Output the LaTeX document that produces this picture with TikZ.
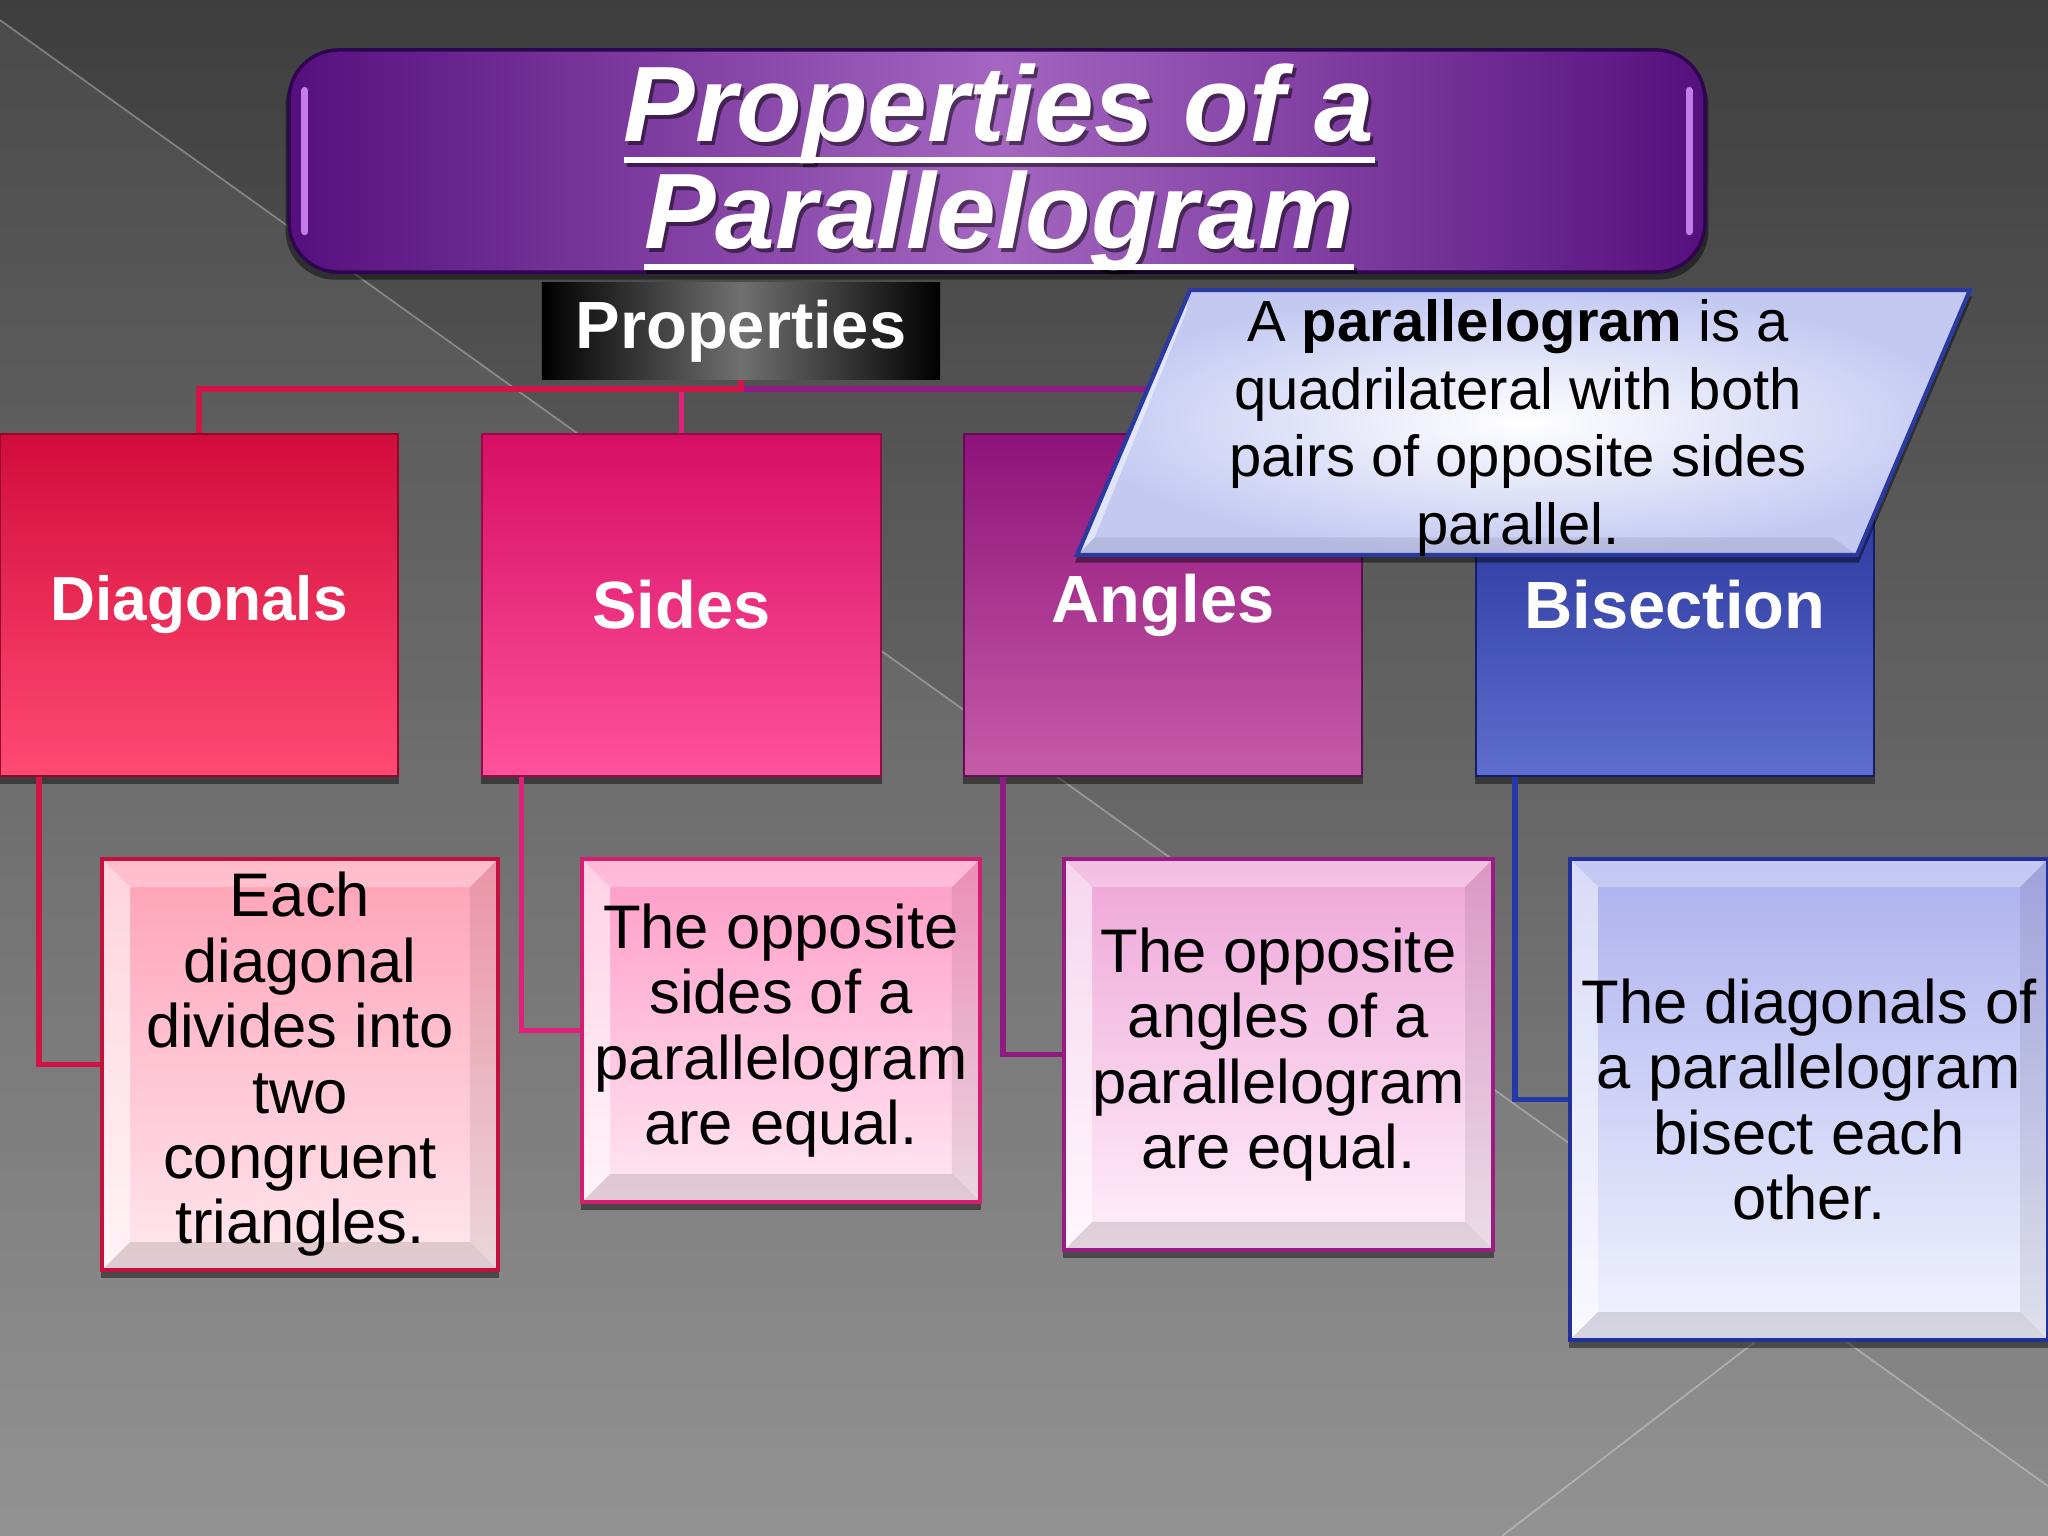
\documentclass[tikz,border=0pt]{standalone}
\usepackage{fontspec}
\setmainfont{Liberation Sans}
\usetikzlibrary{shadows}

% colours
\definecolor{bgtop}{HTML}{3E3E3E}
\definecolor{bgbot}{HTML}{8C8C8C}
\definecolor{ttlside}{HTML}{56107E}
\definecolor{ttlmid}{HTML}{A466C0}
\definecolor{ttlrim}{HTML}{2E0650}
\definecolor{ttlglow}{HTML}{C57BE8}
\definecolor{propmid}{HTML}{707070}
\definecolor{diagtop}{HTML}{D20C3A}
\definecolor{diagbot}{HTML}{FF4A72}
\definecolor{sidetop}{HTML}{D70E66}
\definecolor{sidebot}{HTML}{FF529A}
\definecolor{angltop}{HTML}{8E127A}
\definecolor{anglbot}{HTML}{C65CA8}
\definecolor{bisetop}{HTML}{1E2A92}
\definecolor{bisebot}{HTML}{5E6ECE}
\definecolor{diaglite}{HTML}{FFA0B6}
\definecolor{diagpale}{HTML}{FFE8EF}
\definecolor{diagedge}{HTML}{C4103E}
\definecolor{sidelite}{HTML}{FF9AC6}
\definecolor{sidepale}{HTML}{FFE8F3}
\definecolor{sideedge}{HTML}{D41E70}
\definecolor{angllite}{HTML}{EEA4D8}
\definecolor{anglpale}{HTML}{FFF0FA}
\definecolor{angledge}{HTML}{9A1C82}
\definecolor{biselite}{HTML}{ACB0EE}
\definecolor{bisepale}{HTML}{F3F4FF}
\definecolor{biseedge}{HTML}{22309A}
\definecolor{defnedge}{HTML}{C4C9F2}
\definecolor{defnline}{HTML}{2A3A9E}
\definecolor{diaglink}{HTML}{D01448}
\definecolor{sidelink}{HTML}{E0207A}
\definecolor{angllink}{HTML}{8E1A82}
\definecolor{biselink}{HTML}{2438A8}

% underlined title line
\newcommand{\ttlline}[1]{\setbox0=\hbox{#1}\rlap{\rule[-6.3pt]{\wd0}{1.8pt}}\box0}

\tikzset{
  halo/.style={drop shadow={shadow xshift=0pt, shadow yshift=-2pt, shadow scale=1.005, opacity=.45, fill=black}},
  topbox/.style 2 args={top color=#1, bottom color=#2, draw=#1!70!black, line width=.6pt,
    minimum width=3.98cm, minimum height=3.42cm, text=white,
    font=\fontsize{19}{22}\selectfont\bfseries, halo},
  bevel/.style={path picture={
    \fill[white, opacity=.55] (path picture bounding box.north west) -- (path picture bounding box.south west)
      -- ([shift={(8pt,8pt)}]path picture bounding box.south west) -- ([shift={(8pt,-8pt)}]path picture bounding box.north west) -- cycle;
    \fill[white, opacity=.3] (path picture bounding box.north west) -- (path picture bounding box.north east)
      -- ([shift={(-8pt,-8pt)}]path picture bounding box.north east) -- ([shift={(8pt,-8pt)}]path picture bounding box.north west) -- cycle;
    \fill[black, opacity=.08] (path picture bounding box.north east) -- (path picture bounding box.south east)
      -- ([shift={(-8pt,8pt)}]path picture bounding box.south east) -- ([shift={(-8pt,-8pt)}]path picture bounding box.north east) -- cycle;
    \fill[black, opacity=.12] (path picture bounding box.south west) -- (path picture bounding box.south east)
      -- ([shift={(-8pt,8pt)}]path picture bounding box.south east) -- ([shift={(8pt,8pt)}]path picture bounding box.south west) -- cycle;
  }},
  txtbox/.style n args={3}{top color=#1, bottom color=#2, draw=#3, line width=1.2pt, bevel, halo,
    align=center, text=black, font=\fontsize{17.5}{18.6}\selectfont},
  link/.style={line width=1.6pt},
}

\begin{document}
\begin{tikzpicture}[x=0.01cm, y=-0.01cm]
    \useasboundingbox (0,0) rectangle (2048,1536);

    % Draw the background
    \shade[top color=bgtop, bottom color=bgbot] (0,0) rectangle (2048,1536);
    \fill[white, opacity=.06] (0,20) -- (2048,1486) -- (2048,1536) -- (0,1536) -- cycle;
    \draw[white, opacity=.3, line width=.5pt] (0,20) -- (2048,1486);
    \draw[white, opacity=.3, line width=.5pt] (1502,1536) -- (2048,1117);

    % Draw the title
    \node[rounded corners=14pt, left color=ttlside, right color=ttlside, middle color=ttlmid,
          draw=ttlrim, line width=1pt, minimum width=14.15cm, minimum height=2.22cm, halo] (ttl) at (997,161) {};
    \draw[ttlglow, line width=2pt, line cap=round] ([shift={(5pt,-12pt)}]ttl.north west) -- ([shift={(5pt,12pt)}]ttl.south west);
    \draw[ttlglow, line width=2pt, line cap=round] ([shift={(-5pt,-12pt)}]ttl.north east) -- ([shift={(-5pt,12pt)}]ttl.south east);
    \node[anchor=base, text=black, opacity=.5, font=\fontsize{30.5}{32}\selectfont\bfseries\itshape] (ttl1s) at (1002,145) {\ttlline{Properties of a}};
    \node[anchor=base, text=black, opacity=.5, font=\fontsize{30.5}{32}\selectfont\bfseries\itshape] (ttl2s) at (1002,252) {\ttlline{Parallelogram}};
    \node[anchor=base, text=white, font=\fontsize{30.5}{32}\selectfont\bfseries\itshape] (ttl1) at (999,141) {\ttlline{Properties of a}};
    \node[anchor=base, text=white, font=\fontsize{30.5}{32}\selectfont\bfseries\itshape] (ttl2) at (999,248) {\ttlline{Parallelogram}};

    % Draw the Properties box
    \node[left color=black, right color=black, middle color=propmid, minimum width=3.98cm, minimum height=0.96cm,
          text=white, font=\fontsize{19}{22}\selectfont\bfseries] (props) at (741,331) {Properties};

    % Draw the four property boxes
    \node[topbox={diagtop}{diagbot}, font=\fontsize{17.7}{21}\selectfont\bfseries] (diag) at (199,605) {Diagonals};
    \node[topbox={sidetop}{sidebot}] (side) at (681.5,605) {Sides};
    \node[topbox={angltop}{anglbot}] (angl) at (1163,605) {Angles};
    \node[topbox={bisetop}{bisebot}] (bise) at (1675,605) {Bisection};

    % Draw edges from Properties to the four boxes
    \draw[link, biselink] (props.south) -- ++(0,9) -| (bise.north);
    \draw[link, angllink] (props.south) -- ++(0,9) -| (angl.north);
    \draw[link, sidelink] (props.south) -- ++(0,9) -| (side.north);
    \draw[link, diaglink] (props.south) -- ++(0,9) -| (diag.north);

    % Draw the statement boxes
    \node[txtbox={diaglite}{diagpale}{diagedge}, minimum width=3.96cm, minimum height=4.11cm] (diagtxt) at (300,1064.5)
        {Each\\diagonal\\divides into\\two\\congruent\\triangles.};
    \node[txtbox={sidelite}{sidepale}{sideedge}, minimum width=3.98cm, minimum height=3.43cm] (sidetxt) at (781,1030.5)
        {The opposite\\sides of a\\parallelogram\\are equal.};
    \node[txtbox={angllite}{anglpale}{angledge}, minimum width=4.29cm, minimum height=3.91cm] (angltxt) at (1278.5,1054.5)
        {The opposite\\angles of a\\parallelogram\\are equal.};
    \node[txtbox={biselite}{bisepale}{biseedge}, minimum width=4.62cm, minimum height=4.81cm] (bisetxt) at (1809,1099.5)
        {The diagonals of\\a parallelogram\\bisect each\\other.};

    % Draw edges from the boxes to the statements
    \draw[link, diaglink] ([xshift=0.4cm]diag.south west) |- (diagtxt.west);
    \draw[link, sidelink] ([xshift=0.4cm]side.south west) |- (sidetxt.west);
    \draw[link, angllink] ([xshift=0.4cm]angl.south west) |- (angltxt.west);
    \draw[link, biselink] ([xshift=0.4cm]bise.south west) |- (bisetxt.west);

    % Draw the definition parallelogram
    \coordinate (p1) at (1190,290);
    \coordinate (p2) at (1970,290);
    \coordinate (p3) at (1857,555);
    \coordinate (p4) at (1077,555);
    \shade[inner color=white, outer color=defnedge, halo] (p1) -- (p2) -- (p3) -- (p4) -- cycle;
    \fill[white, opacity=.5] (p4) -- (p1) -- ([shift={(-1pt,-6pt)}]p1) -- ([shift={(5pt,5pt)}]p4) -- cycle;
    \fill[black, opacity=.08] (p4) -- (p3) -- ([shift={(-7pt,5pt)}]p3) -- ([shift={(5pt,5pt)}]p4) -- cycle;
    \draw[defnline, line width=1.2pt] (p1) -- (p2) -- (p3) -- (p4) -- cycle;
    \node[align=center, text=black, font=\fontsize{16.5}{19.3}\selectfont] (defn) at (1518,428)
        {A \textbf{parallelogram} is a\\quadrilateral with both\\pairs of opposite sides\\parallel.};

\end{tikzpicture}
\end{document}
